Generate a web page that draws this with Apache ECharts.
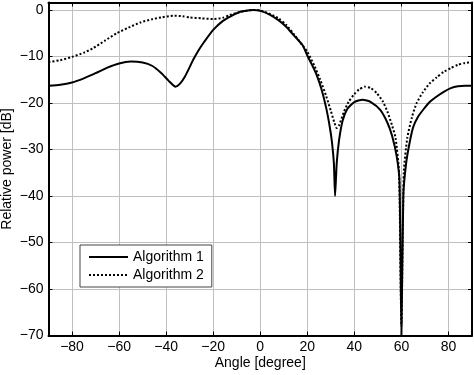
<!DOCTYPE html>
<html>
<head>
<meta charset="utf-8">
<script src="https://cdn.jsdelivr.net/npm/echarts@6/dist/echarts.min.js"></script>
<style>
html,body{margin:0;padding:0;background:#fff;}
#chart{width:474px;height:375px;}
</style>
</head>
<body>
<div id="chart"></div>
<script>
const seriesNames = ['Algorithm 1', 'Algorithm 2'];

const alg1Angle = [-90,-85,-80,-75,-70,-65,-60,-55,-50,-46,-42,-39,-36,-34,-32,-30,-28.5,-26,-24,-20,-16,-12,-8,-3,0,4,8,11,14,18,20,22,24,26,28,29.5,30.5,31.3,31.8,32.5,33.5,35,37,40,43.5,47,51,54,56,58,59.2,60,60.8,62,63.5,65,67,69.5,72,75,78,81,84,87,90];
const alg1Power = [-16.3,-16.1,-15.6,-14.7,-13.6,-12.4,-11.5,-11.1,-11.3,-12.0,-13.6,-15.2,-16.5,-15.8,-14.3,-12.3,-10.7,-8.5,-7.0,-4.3,-2.4,-1.2,-0.35,0,-0.2,-1.0,-2.3,-3.6,-5.3,-7.6,-9.8,-11.8,-14.0,-17.0,-21.0,-25.0,-28.5,-33.0,-40.0,-33.0,-28.0,-23.8,-21.3,-19.8,-19.3,-19.8,-21.5,-24.2,-27.0,-31.5,-37.0,-70.0,-40.0,-33.0,-28.5,-25.2,-23.0,-21.3,-19.8,-18.6,-17.6,-16.8,-16.4,-16.3,-16.3];

const alg2Angle = [-90,-85,-80,-75,-71,-66,-61,-56,-51,-46,-42,-37,-33,-30,-25,-20,-16,-13,-9,-3,0,4,8,11,14,17,20,23,25.5,28,30,31.5,32.5,33.5,35.5,37.5,40,42,44.5,47,49.5,52,54,56,57.5,59,60,61,62.5,64.5,66.5,69,72,75,78,81,84,87,90];
const alg2Power = [-11.2,-10.8,-10.1,-9.2,-8.2,-6.6,-5.0,-3.8,-2.7,-2.0,-1.6,-1.25,-1.35,-1.6,-1.8,-1.95,-1.7,-1.1,-0.5,0,-0.1,-0.8,-1.9,-3.2,-5.0,-7.0,-9.0,-12.0,-15.0,-18.5,-21.7,-24.2,-25.4,-24.8,-22.0,-19.8,-18.1,-17.1,-16.5,-16.8,-17.9,-19.6,-21.8,-24.8,-27.5,-35.0,-68.0,-35.0,-27.5,-23.0,-20.0,-17.8,-15.8,-14.5,-13.3,-12.5,-11.8,-11.4,-11.2];

const xTickLabels = ['-80','-60','-40','-20','0','20','40','60','80'];
const yTickLabels = ['-70','-60','-50','-40','-30','-20','-10','0'];

const FONT = '"Liberation Sans", Arial, sans-serif';
const pair = (xs, ys) => xs.map((x, i) => [x, ys[i]]);
const fmt = (list) => (v) => {
  const s = String(Math.round(v * 1000) / 1000);
  return list.indexOf(s) >= 0 ? s.replace('-', '\u2212') : '';
};

const chart = echarts.init(document.getElementById('chart'), null, {renderer: 'canvas'});

const axisLineStyle = {color: '#000', width: 2};
const gridLine = {show: true, lineStyle: {color: '#c0c0c0', width: 1}};

chart.setOption({
  animation: false,
  backgroundColor: '#fff',
  grid: {left: 48.5, right: 2, top: 2.5, bottom: 39.5, containLabel: false, outerBoundsMode: 'none'},
  legend: {
    orient: 'vertical',
    left: 80, top: 245,
    padding: [5, 8, 5, 8],
    itemWidth: 39, itemHeight: 14, itemGap: 4,
    backgroundColor: '#fff',
    borderColor: '#444', borderWidth: 1, borderRadius: 0,
    itemStyle: {opacity: 0},
    textStyle: {fontFamily: FONT, fontSize: 14, color: '#000'},
    data: seriesNames
  },
  xAxis: [{
    type: 'value', min: -90, max: 90, splitNumber: 9,
    position: 'bottom',
    name: 'Angle [degree]', nameLocation: 'middle', nameGap: 21, nameMoveOverlap: false,
    nameTextStyle: {fontFamily: FONT, fontSize: 14, color: '#000'},
    axisLine: {show: true, onZero: false, lineStyle: axisLineStyle},
    axisTick: {show: true, inside: true, length: 4, lineStyle: {color: '#000', width: 1}},
    axisLabel: {margin: 5, fontFamily: FONT, fontSize: 14, color: '#000', formatter: fmt(xTickLabels)},
    splitLine: gridLine
  }, {
    type: 'value', min: -90, max: 90, splitNumber: 9,
    position: 'top',
    axisLine: {show: true, onZero: false, lineStyle: axisLineStyle},
    axisTick: {show: true, inside: true, length: 4, lineStyle: {color: '#000', width: 1}},
    axisLabel: {show: false},
    splitLine: {show: false}
  }],
  yAxis: [{
    type: 'value', min: -70, max: 1.6, interval: 10,
    position: 'left',
    name: 'Relative power [dB]', nameLocation: 'middle', nameGap: 34, nameRotate: 90, nameMoveOverlap: false,
    nameTextStyle: {fontFamily: FONT, fontSize: 14, color: '#000'},
    axisLine: {show: true, onZero: false, lineStyle: axisLineStyle},
    axisTick: {show: true, inside: true, length: 4, lineStyle: {color: '#000', width: 1}},
    axisLabel: {margin: 5, fontFamily: FONT, fontSize: 14, color: '#000', formatter: fmt(yTickLabels), showMaxLabel: false},
    splitLine: gridLine
  }, {
    type: 'value', min: -70, max: 1.6, interval: 10,
    position: 'right',
    axisLine: {show: true, onZero: false, lineStyle: axisLineStyle},
    axisTick: {show: true, inside: true, length: 4, lineStyle: {color: '#000', width: 1}},
    axisLabel: {show: false},
    splitLine: {show: false}
  }],
  series: [{
    name: seriesNames[0], type: 'line', xAxisIndex: 0, yAxisIndex: 0,
    data: pair(alg1Angle, alg1Power),
    symbol: 'none', smooth: 0.2,
    lineStyle: {color: '#000', width: 2, type: 'solid'},
    itemStyle: {color: '#000'}
  }, {
    name: seriesNames[1], type: 'line', xAxisIndex: 0, yAxisIndex: 0,
    data: pair(alg2Angle, alg2Power),
    symbol: 'none', smooth: 0.2,
    lineStyle: {color: '#000', width: 2, type: [2, 2]},
    itemStyle: {color: '#000'}
  }]
});
</script>
</body>
</html>
